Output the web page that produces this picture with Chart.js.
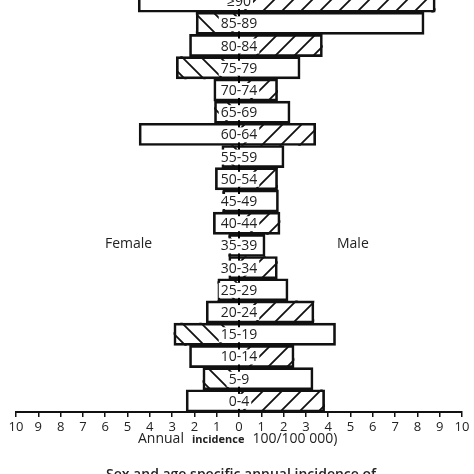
<!DOCTYPE html>
<html>
<head>
<meta charset="utf-8">
<script src="https://cdn.jsdelivr.net/npm/chart.js@4/dist/chart.umd.min.js"></script>
<style>
  html, body { margin:0; padding:0; background:#fff; }
  body { width:474px; height:474px; position:relative; overflow:hidden; font-family:"Open Sans", sans-serif; color:#222; }
  #wrap { position:absolute; left:0; top:-30px; width:474px; height:472px; }
  .txt { position:absolute; white-space:nowrap; font-size:14px; line-height:1; }
  #xtitle { left:138px; top:431px; }
  #xtitle b { font-size:11px; font-weight:700; margin:0 8px; }
  #caption { left:106px; top:467px; font-weight:600; font-size:14px; }
</style>
</head>
<body>
<div id="wrap"><canvas id="c"></canvas></div>
<div class="txt" style="left:105px; top:236px;">Female</div>
<div class="txt" style="left:337px; top:236px;">Male</div>
<div class="txt" id="xtitle">Annual<b>incidence</b>100/100 000)</div>
<div class="txt" id="caption">Sex and age specific annual incidence of</div>
<script>
// age groups, bottom to top
const ages = ['0-4','5-9','10-14','15-19','20-24','25-29','30-34','35-39','40-44','45-49',
              '50-54','55-59','60-64','65-69','70-74','75-79','80-84','85-89','≥90'];
// incidence per 100 000
const female = [2.37,1.62,2.22,2.92,1.47,0.95,0.46,0.46,1.15,0.73,
                1.06,0.77,4.48,1.10,1.13,2.81,2.22,1.92,4.52];
const male   = [3.84,3.32,2.47,4.33,3.36,2.20,1.72,1.17,1.84,1.77,
                1.73,2.02,3.44,2.29,1.73,2.74,3.74,8.30,8.80];
const xTicks = [-10,-9,-8,-7,-6,-5,-4,-3,-2,-1,0,1,2,3,4,5,6,7,8,9,10];

const canvas = document.getElementById('c');
const mainCtx = canvas.getContext('2d');

// diagonal hatch tiles
function makeHatch(dir){
  const s = 19;
  const t = document.createElement('canvas');
  t.width = s; t.height = s;
  const g = t.getContext('2d');
  g.strokeStyle = '#111'; g.lineWidth = 1.8;
  g.beginPath();
  if (dir === '/') {
    g.moveTo(-2, s+2); g.lineTo(s+2, -2);
    g.moveTo(-2, 2); g.lineTo(2, -2);
    g.moveTo(s-2, s+2); g.lineTo(s+2, s-2);
  } else {
    g.moveTo(-2, -2); g.lineTo(s+2, s+2);
    g.moveTo(s-2, -2); g.lineTo(s+2, 2);
    g.moveTo(-2, s-2); g.lineTo(2, s+2);
  }
  g.stroke();
  return mainCtx.createPattern(t, 'repeat');
}
const hatchR = makeHatch('/');
const hatchL = makeHatch('\\');

// every other row is hatched on the male side, the rest on the female side
const hatchData = ages.map((a,i) => i % 2 === 0 ? [0, male[i]] : [-female[i], 0]);
const boxData = ages.map((a,i) => [-female[i], male[i]]);

const centerLabels = {
  id: 'centerLabels',
  afterDatasetsDraw(chart){
    const {ctx, chartArea} = chart;
    const xs = chart.scales.x, ys = chart.scales.y;
    const x0 = xs.getPixelForValue(0);
    ctx.save();
    ctx.strokeStyle = '#000'; ctx.lineWidth = 2;
    ctx.beginPath(); ctx.moveTo(x0, chartArea.top); ctx.lineTo(x0, chartArea.bottom); ctx.stroke();
    ctx.font = '14px "Open Sans"';
    ctx.textAlign = 'center'; ctx.textBaseline = 'middle';
    ages.forEach((lab, i) => {
      const y = ys.getPixelForValue(i);
      const w = ctx.measureText(lab).width;
      ctx.fillStyle = '#fff';
      ctx.fillRect(x0 - w/2 - 2, y - 7, w + 4, 15);
      ctx.fillStyle = '#222';
      ctx.fillText(lab, x0, y + 1);
    });
    ctx.restore();
  }
};

new Chart(canvas, {
  type: 'bar',
  data: {
    labels: ages,
    datasets: [
      { data: boxData, backgroundColor: 'rgba(0,0,0,0)', borderColor: '#111', borderWidth: 2,
        borderSkipped: false, grouped: false, order: 0, barPercentage: 1, categoryPercentage: 1 },
      { data: hatchData, backgroundColor: ages.map((a,i) => i % 2 === 0 ? hatchR : hatchL),
        borderWidth: 0, grouped: false, order: 1, barPercentage: 1, categoryPercentage: 1 }
    ]
  },
  options: {
    indexAxis: 'y',
    responsive: true,
    maintainAspectRatio: false,
    animation: false,
    layout: { padding: { top: 20, left: 16, right: 12, bottom: 0 } },
    plugins: { legend: { display: false }, tooltip: { enabled: false } },
    scales: {
      y: { reverse: true, display: false },
      x: {
        min: -10, max: 10,
        afterBuildTicks: s => { s.ticks = xTicks.map(v => ({ value: v })); },
        afterFit: s => { s.height = 30; },
        ticks: { autoSkip: false, maxRotation: 0, padding: 2, color: '#222',
                 font: { family: 'Open Sans', size: 13 }, callback: v => Math.abs(v) },
        grid: { drawOnChartArea: false, drawTicks: true, tickLength: 5, color: '#111', lineWidth: 1.5 },
        border: { display: true, color: '#111', width: 2 }
      }
    }
  },
  plugins: [centerLabels]
});
</script>
</body>
</html>
